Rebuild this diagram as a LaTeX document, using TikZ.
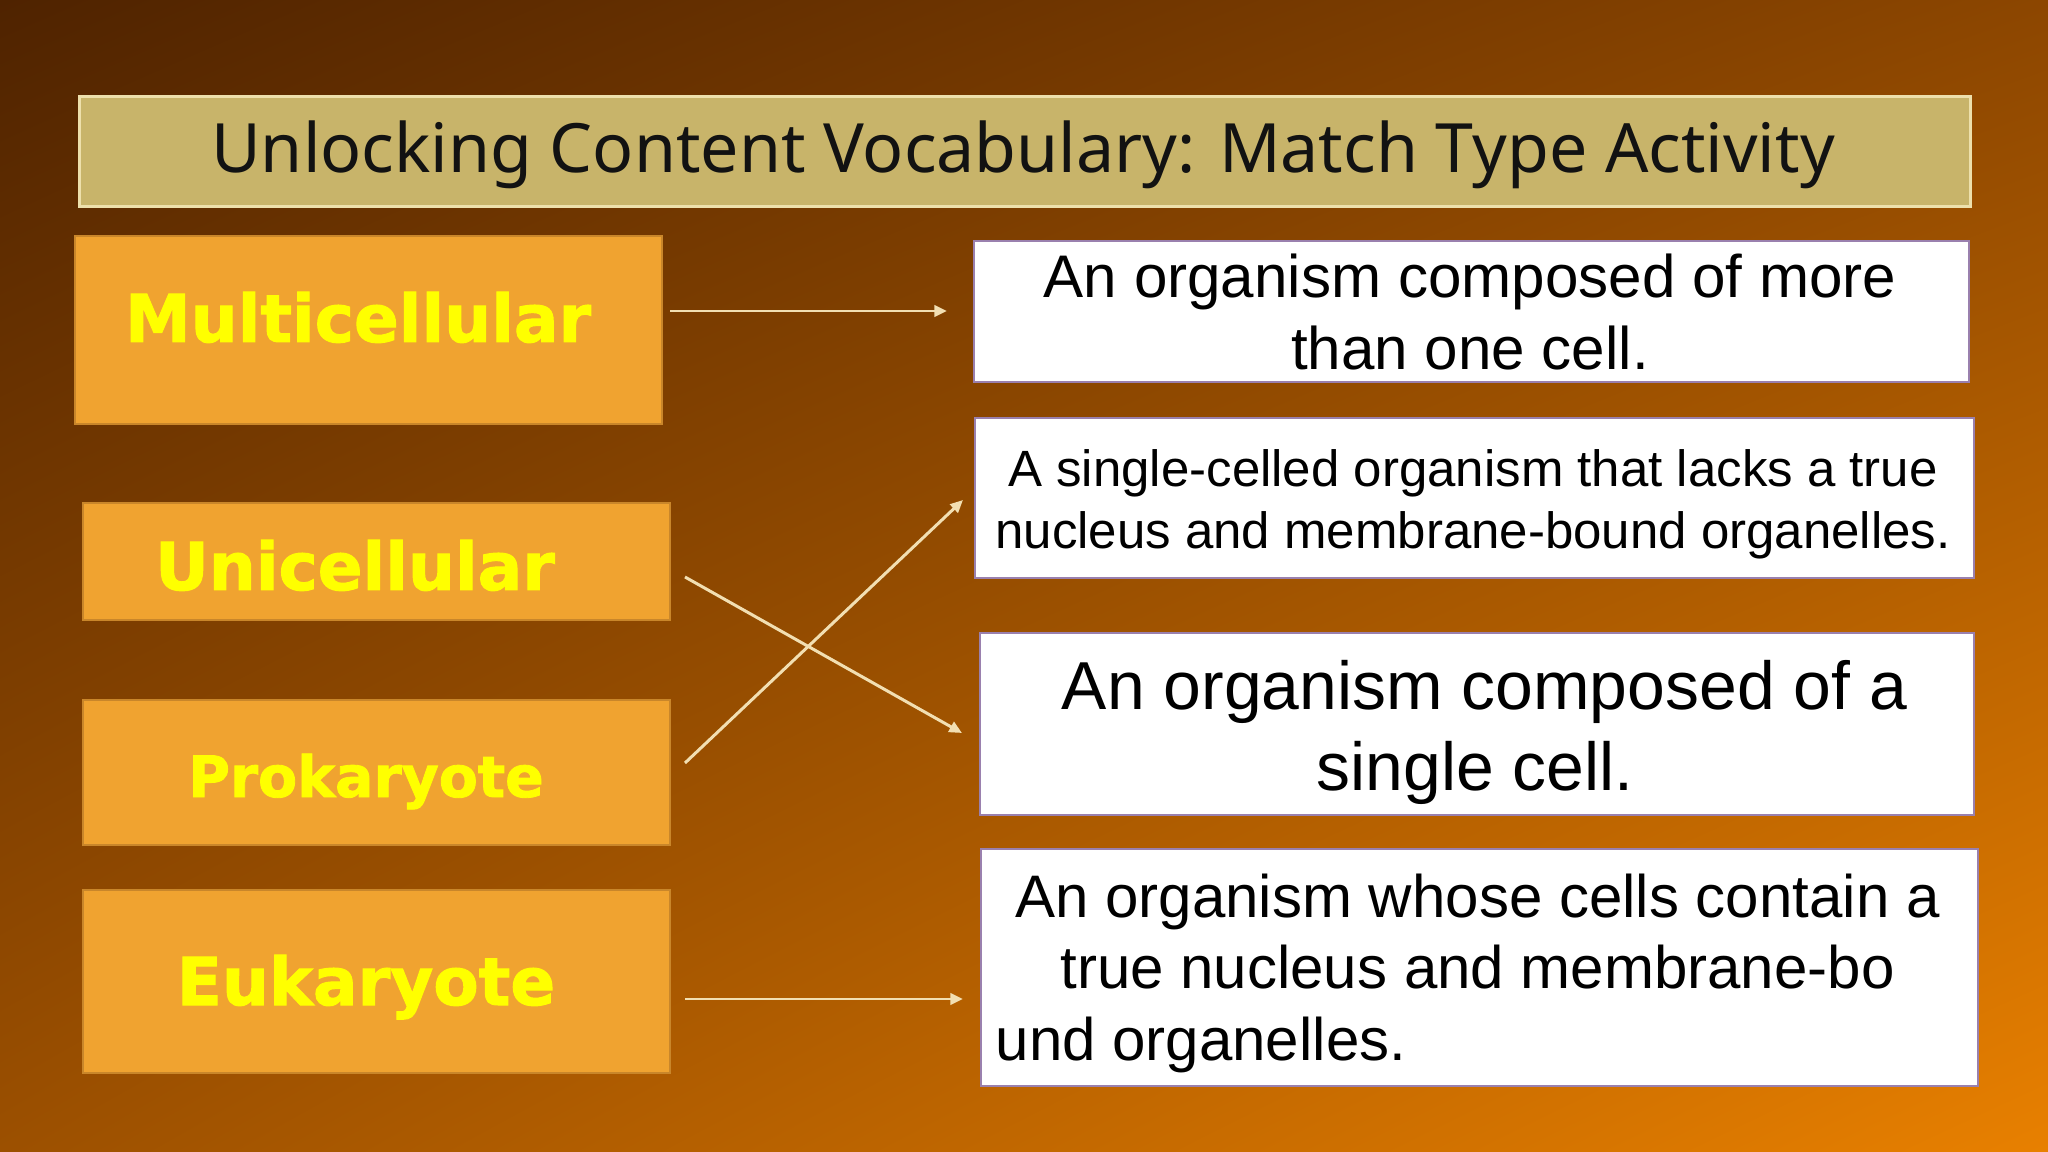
\documentclass[tikz,border=0pt]{standalone}
\usepackage{fontspec}
\setmainfont{Liberation Sans}
\newfontfamily\titlefont{Noto Sans}
\newfontfamily\labelfont{DejaVu Sans}[BoldFeatures={FakeBold=1.5}]
\usetikzlibrary{arrows.meta,shadings}
\definecolor{bgTL}{HTML}{4F2300}
\definecolor{bgTR}{HTML}{8C4600}
\definecolor{bgBL}{HTML}{9C5000}
\definecolor{bgBR}{HTML}{E88000}
\definecolor{titlefill}{HTML}{C8B46A}
\definecolor{titleline}{HTML}{EDE0AC}
\definecolor{lboxfill}{HTML}{F0A330}
\definecolor{lboxline}{HTML}{C9862A}
\definecolor{rboxline}{HTML}{9A80AE}
\definecolor{labelyellow}{HTML}{FFFF00}
\definecolor{arrowcol}{HTML}{F2DFB2}
\tikzset{
  titlebox/.style={draw=titleline, line width=0.8pt, fill=titlefill, inner sep=0pt, anchor=north west},
  lbox/.style={draw=lboxline, line width=0.6pt, fill=lboxfill, inner sep=0pt, anchor=north west, minimum width=5.87cm},
  rbox/.style={draw=rboxline, line width=0.6pt, fill=white, inner sep=0pt, anchor=north west},
  lbl/.style={inner sep=0pt, anchor=base, text=labelyellow, font=\labelfont\bfseries\fontsize{18.8}{22}\selectfont},
  rtext/.style={inner sep=0pt, anchor=base, align=center, text=black},
  arr/.style={draw=arrowcol, line width=0.85pt, -{Triangle[length=3.6pt,width=3.2pt]}}
}
\begin{document}
\begin{tikzpicture}[x=0.01cm,y=-0.01cm]
\useasboundingbox (0,0) rectangle (2048,1152);
\shade[upper left=bgTL, upper right=bgTR, lower left=bgBL, lower right=bgBR] (0,0) rectangle (2048,1152);

% title
\node[titlebox, minimum width=18.9cm, minimum height=1.1cm] (title) at (78,95) {};
\node[inner sep=0pt, anchor=base, font=\titlefont\fontsize{19.35}{23}\selectfont, text=black!93] (titletext) at (1023,173) {Unlocking Content Vocabulary: Match Type Activity};

% left boxes
\node[lbox, minimum height=1.88cm] (multi) at (74,235) {};
\node[lbox, minimum height=1.17cm] (uni) at (82,502) {};
\node[lbox, minimum height=1.45cm] (pro) at (82,699) {};
\node[lbox, minimum height=1.83cm] (euk) at (82,889) {};
\node[lbl] (multitext) at (358,342) {Multicellular};
\node[lbl] (unitext) at (355,590) {Unicellular};
\node[lbl, font=\labelfont\bfseries\fontsize{16.2}{19}\selectfont] (protext) at (366,797) {Prokaryote};
\node[lbl] (euktext) at (366,1005) {Eukaryote};

% right boxes
\node[rbox, minimum width=9.94cm, minimum height=1.41cm] (r1) at (973,240) {};
\node[rbox, minimum width=9.98cm, minimum height=1.60cm] (r2) at (974,417) {};
\node[rbox, minimum width=9.93cm, minimum height=1.82cm] (r3) at (979,632) {};
\node[rbox, minimum width=9.96cm, minimum height=2.37cm] (r4) at (980,848) {};
\node[rtext, font=\fontsize{17.1}{20.5}\selectfont] (r1text) at (1470,370) {An organism composed of more\\than one cell.};
\node[rtext, font=\fontsize{14.5}{17.4}\selectfont] (r2text) at (1473,548) {A single-celled organism that lacks a true\\nucleus and membrane-bound organelles.};
\node[rtext, font=\fontsize{19.3}{23}\selectfont] (r3text) at (1475,790) {\hspace*{0.28em}An organism composed of a\\single cell.};
\node[rtext, font=\fontsize{17.07}{20.3}\selectfont] (r4text) at (1477.5,1060) {An organism whose cells contain a\\true nucleus and membrane-bo\\\makebox[9.63cm][l]{und organelles.}};

% connectors
\coordinate (a1s) at (670,311);
\coordinate (a1e) at (947,311);
\coordinate (a2s) at (685,577);
\coordinate (a2e) at (962,733);
\coordinate (a3s) at (685,763);
\coordinate (a3e) at (963,500);
\coordinate (a4s) at (685,999);
\coordinate (a4e) at (963,999);
\draw[arr] (a1s) -- (a1e);
\draw[arr] (a2s) -- (a2e);
\draw[arr] (a3s) -- (a3e);
\draw[arr] (a4s) -- (a4e);
\end{tikzpicture}
\end{document}
